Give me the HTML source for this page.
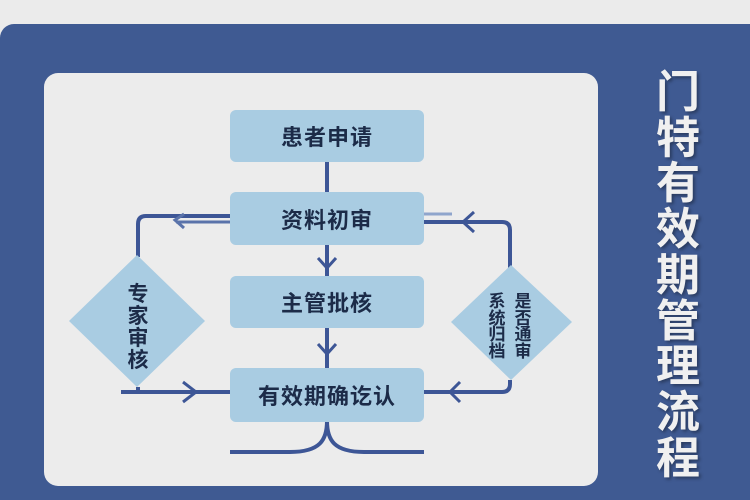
<!DOCTYPE html>
<html><head><meta charset="utf-8"><style>
html,body{margin:0;padding:0;width:750px;height:500px;overflow:hidden;}
body{background:#ebebeb;position:relative;font-family:"Liberation Sans","Noto Sans CJK SC",sans-serif;}
.blue{position:absolute;left:0;top:24px;width:750px;height:476px;background:#3f5a92;border-radius:14px 0 0 0;}
.inner{position:absolute;left:44px;top:73px;width:554px;height:413px;background:#ececec;border-radius:14px;}
.box{position:absolute;left:230px;width:194px;background:#a9cce2;border-radius:6px;color:#1c2b48;font-size:22px;font-weight:bold;text-align:center;display:flex;align-items:center;justify-content:center;letter-spacing:1px;}
.title{position:absolute;left:653px;top:70px;width:50px;color:#f0f0f0;font-size:44px;font-weight:bold;line-height:45.7px;text-align:center;text-shadow:2px 2px 3px rgba(0,0,0,0.35);}
.vt{position:absolute;color:#1c2b48;font-weight:bold;text-align:center;}
</style></head><body>
<div class="blue"></div>
<div class="inner"></div>
<svg width="750" height="500" style="position:absolute;left:0;top:0">
<g stroke="#3d5696" stroke-width="4" fill="none" stroke-linecap="butt">
<line x1="327" y1="162" x2="327" y2="192"/>
<line x1="327" y1="245" x2="327" y2="276"/>
<polyline points="318,258 327,268 336,258" stroke-width="3"/>
<line x1="327" y1="328" x2="327" y2="368"/>
<polyline points="318,344 327,354 336,344" stroke-width="3"/>
<path d="M327,421 C327,440 320,452 290,452 L230,452"/>
<path d="M327,421 C327,440 334,452 364,452 L424,452"/>
<path d="M230,216 L146,216 Q138,216 138,224 L138,257"/>
<line x1="230" y1="222" x2="176" y2="222" stroke="#5a73aa" stroke-width="3"/>
<polyline points="184,214 175,220 184,228" stroke="#5a73aa" stroke-width="3"/>
<line x1="138" y1="387" x2="138" y2="392"/>
<line x1="121" y1="392" x2="230" y2="392"/>
<polyline points="183,382 196,392 183,402" stroke-width="3"/>
<path d="M510,268 L510,230 Q510,222 502,222 L424,222"/>
<polyline points="474,212 463,222 474,232" stroke-width="3"/>
<line x1="424" y1="214" x2="452" y2="214" stroke="#8fa5cc" stroke-width="3"/>
<path d="M510,380 L510,384 Q510,392 502,392 L424,392"/>
<polyline points="460,382 450,392 460,402" stroke-width="3"/>
</g>
<polygon points="137,255 205,321 137,387 69,321" fill="#a9cce2"/>
<polygon points="511,265 572,322 511,380 451,322" fill="#a9cce2"/>
</svg>
<div class="box" style="top:110px;height:52px">患者申请</div>
<div class="box" style="top:192px;height:53px">资料初审</div>
<div class="box" style="top:276px;height:52px">主管批核</div>
<div class="box" style="top:368px;height:54px">有效期确讫认</div>
<div class="vt" style="left:124px;top:284px;width:28px;font-size:21px;line-height:22px;">专<br>家<br>审<br>核</div>
<div class="vt" style="left:487px;top:294px;width:20px;font-size:17px;line-height:16.5px;">系<br>统<br>归<br>档</div>
<div class="vt" style="left:513px;top:294px;width:20px;font-size:17px;line-height:16.5px;">是<br>否<br>通<br>审</div>
<div class="title">门<br>特<br>有<br>效<br>期<br>管<br>理<br>流<br>程</div>
</body></html>
